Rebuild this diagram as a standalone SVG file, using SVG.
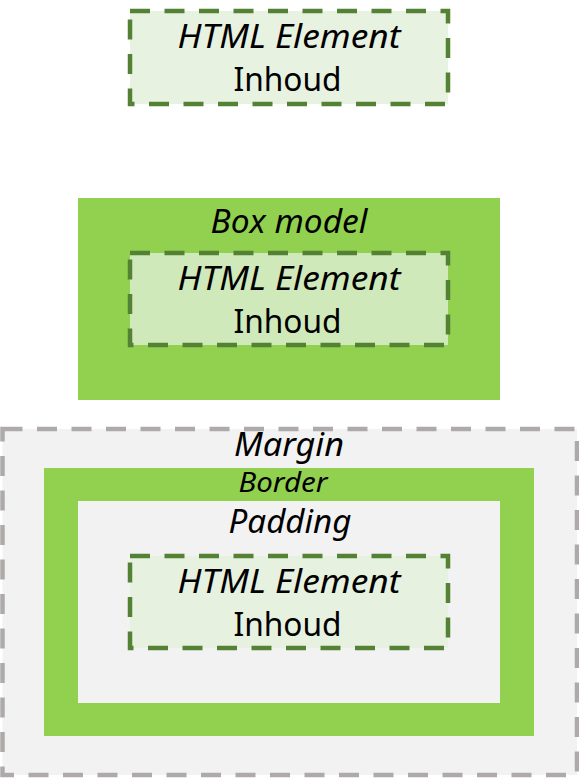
<svg xmlns="http://www.w3.org/2000/svg" width="579" height="778" viewBox="0 0 579 778">
  <style>
    text { font-family: "Noto Sans", "Open Sans", sans-serif; font-size: 32px; fill: #000; text-anchor: middle; }
    .it { font-style: italic; font-size: 33px; }
    .el { stroke: #548235; stroke-width: 4.5; stroke-dasharray: 20 14.5; }
    .green { fill: #92d050; }
    .grey { fill: #f2f2f2; }
  </style>
  <rect width="579" height="778" fill="#ffffff"/>

  <g id="element-top">
    <rect class="el" x="130" y="11" width="318" height="93" fill="#e8f2e0"/>
    <text class="it" x="289" y="48" textLength="223" lengthAdjust="spacingAndGlyphs">HTML Element</text>
    <text x="287.5" y="91" textLength="108" lengthAdjust="spacingAndGlyphs">Inhoud</text>
  </g>

  <g id="box-model">
    <rect class="green" x="78" y="198" width="422" height="202"/>
    <text class="it" x="289" y="233" textLength="157" lengthAdjust="spacingAndGlyphs">Box model</text>
    <g id="element-middle">
      <rect class="el" x="130" y="253" width="318" height="92" fill="#d0e9bb"/>
      <text class="it" x="289" y="290" textLength="223" lengthAdjust="spacingAndGlyphs">HTML Element</text>
      <text x="287.5" y="333" textLength="108" lengthAdjust="spacingAndGlyphs">Inhoud</text>
    </g>
  </g>

  <g id="margin">
    <rect class="grey" x="2.5" y="429" width="574.5" height="346" stroke="#aeaaaa" stroke-width="4.5" stroke-dasharray="20 14.5"/>
    <text class="it" x="289" y="456" textLength="110" lengthAdjust="spacingAndGlyphs">Margin</text>
  </g>
  <g id="border">
    <rect class="green" x="44" y="468" width="490" height="268"/>
    <text class="it" x="283" y="492" style="font-size:27px" textLength="89" lengthAdjust="spacingAndGlyphs">Border</text>
  </g>
  <g id="padding">
    <rect class="grey" x="78" y="501" width="422" height="202"/>
    <text class="it" x="290" y="533" textLength="123" lengthAdjust="spacingAndGlyphs">Padding</text>
  </g>
  <g id="element-bottom">
    <rect class="el" x="130" y="556" width="318" height="92" fill="#e7f1df"/>
    <text class="it" x="289" y="593" textLength="223" lengthAdjust="spacingAndGlyphs">HTML Element</text>
    <text x="287.5" y="636" textLength="108" lengthAdjust="spacingAndGlyphs">Inhoud</text>
  </g>

  <g id="connectors"/>
</svg>
